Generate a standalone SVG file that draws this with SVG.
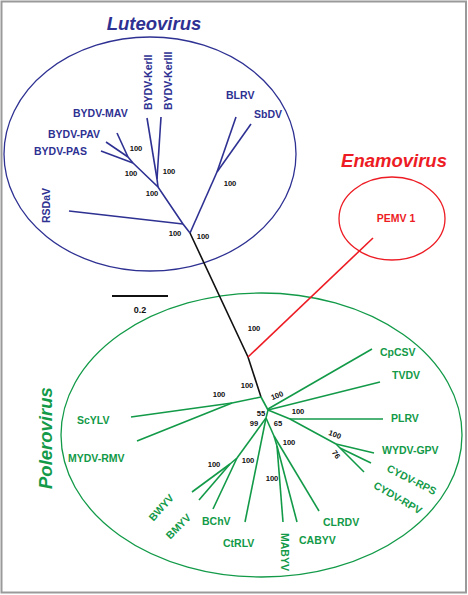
<svg xmlns="http://www.w3.org/2000/svg" width="468" height="595" viewBox="0 0 468 595">
<style>
text{font-family:"Liberation Sans",Arial,sans-serif;font-weight:bold}
.t{font-size:10.5px}
.b{fill:#2E3192}.r{fill:#ED1C24}.g{fill:#129A48}
.title{font-size:18.5px;font-style:italic}
.bs{font-size:7.6px;fill:#111;text-anchor:middle}
.lb{stroke:#2E3192;stroke-width:1.6;fill:none}
.lg{stroke:#129A48;stroke-width:1.6;fill:none}
.lr{stroke:#ED1C24;stroke-width:1.6;fill:none}
.lk{stroke:#111;stroke-width:1.6;fill:none}
.m{text-anchor:middle}
</style>
<rect x="0" y="0" width="468" height="595" fill="#fff"/>
<rect x="1.5" y="1.5" width="464.5" height="591" fill="none" stroke="#9a9a9a" stroke-width="2"/>

<g id="luteovirus">
<ellipse cx="150" cy="154" rx="146" ry="117" fill="none" stroke="#2E3192" stroke-width="1.3"/>
<text class="title b m" x="154" y="30">Luteovirus</text>
</g>
<g id="enamovirus">
<ellipse cx="392" cy="218.5" rx="53" ry="41.5" fill="none" stroke="#ED1C24" stroke-width="1.3"/>
<text class="title r m" x="394" y="167">Enamovirus</text>
</g>
<g id="polerovirus">
<ellipse cx="261.5" cy="435" rx="200.5" ry="142" fill="none" stroke="#129A48" stroke-width="1.3"/>
<text class="title g" transform="translate(52,489) rotate(-90)">Polerovirus</text>
</g>

<g id="connectors">
<!-- Luteovirus -->
<polyline class="lb" points="190,233 183,224 158,187 133,163"/>
<line class="lb" x1="183" y1="224" x2="69" y2="211"/>
<line class="lb" x1="158" y1="187" x2="157" y2="179"/>
<line class="lb" x1="157" y1="179" x2="147" y2="118"/>
<line class="lb" x1="157" y1="179" x2="161" y2="117"/>
<line class="lb" x1="133" y1="163" x2="101" y2="151"/>
<line class="lb" x1="133" y1="163" x2="128" y2="157"/>
<line class="lb" x1="128" y1="157" x2="117" y2="133"/>
<line class="lb" x1="128" y1="157" x2="106" y2="142"/>
<line class="lb" x1="190" y1="233" x2="217" y2="172"/>
<line class="lb" x1="217" y1="172" x2="236" y2="117"/>
<line class="lb" x1="217" y1="172" x2="251" y2="124"/>
<!-- trunk -->
<polyline class="lk" points="190,233 248,357 261,397"/>
<line class="lr" x1="248" y1="357" x2="373" y2="238"/>
<!-- Polerovirus -->
<line class="lg" x1="261" y1="397" x2="268" y2="410"/>
<line class="lg" x1="261" y1="397" x2="232" y2="403"/>
<line class="lg" x1="232" y1="403" x2="131" y2="417"/>
<line class="lg" x1="232" y1="403" x2="137" y2="441"/>
<line class="lg" x1="268" y1="409" x2="372" y2="349"/>
<line class="lg" x1="268" y1="410" x2="380" y2="382"/>
<polyline class="lg" points="268,410 290,419 336,444"/>
<line class="lg" x1="290" y1="419" x2="383" y2="419"/>
<line class="lg" x1="336" y1="444" x2="374" y2="453"/>
<line class="lg" x1="336" y1="444" x2="340" y2="448"/>
<line class="lg" x1="340" y1="448" x2="371" y2="463"/>
<line class="lg" x1="340" y1="448" x2="364" y2="472"/>
<line class="lg" x1="268" y1="410" x2="266" y2="418"/>
<line class="lg" x1="266" y1="418" x2="237" y2="458"/>
<line class="lg" x1="237" y1="458" x2="213" y2="509"/>
<line class="lg" x1="237" y1="458" x2="230" y2="464"/>
<line class="lg" x1="230" y1="464" x2="192" y2="492"/>
<line class="lg" x1="230" y1="464" x2="199" y2="500"/>
<line class="lg" x1="266" y1="418" x2="245" y2="522"/>
<line class="lg" x1="266" y1="418" x2="274" y2="436"/>
<line class="lg" x1="274" y1="436" x2="319" y2="511"/>
<line class="lg" x1="274" y1="436" x2="277" y2="446"/>
<line class="lg" x1="277" y1="446" x2="283" y2="522"/>
<line class="lg" x1="277" y1="446" x2="297" y2="522"/>
<!-- scale bar -->
<line x1="112" y1="296" x2="168" y2="296" stroke="#111" stroke-width="2"/>
</g>

<g id="scale"><text class="bs" style="font-size:9px" x="140" y="313">0.2</text></g>

<g id="BYDV-MAV"><text class="t b" x="73" y="117">BYDV-MAV</text></g>
<g id="BYDV-PAV"><text class="t b" x="48" y="138">BYDV-PAV</text></g>
<g id="BYDV-PAS"><text class="t b" x="34" y="155">BYDV-PAS</text></g>
<g id="BYDV-KerII"><text class="t b" transform="translate(152,110) rotate(-90)">BYDV-KerII</text></g>
<g id="BYDV-KerIII"><text class="t b" transform="translate(172,110) rotate(-90)">BYDV-KerIII</text></g>
<g id="BLRV"><text class="t b" x="226" y="99">BLRV</text></g>
<g id="SbDV"><text class="t b" x="254" y="118">SbDV</text></g>
<g id="RSDaV"><text class="t b" transform="translate(50,223) rotate(-90)">RSDaV</text></g>
<g id="PEMV1"><text class="t r m" x="396" y="222">PEMV 1</text></g>
<g id="CpCSV"><text class="t g" x="380" y="356">CpCSV</text></g>
<g id="TVDV"><text class="t g" x="392" y="379">TVDV</text></g>
<g id="PLRV"><text class="t g" x="391" y="422">PLRV</text></g>
<g id="WYDV-GPV"><text class="t g" x="382" y="454">WYDV-GPV</text></g>
<g id="CYDV-RPS"><text class="t g m" transform="translate(410,483) rotate(27)">CYDV-RPS</text></g>
<g id="CYDV-RPV"><text class="t g m" transform="translate(396,501) rotate(30)">CYDV-RPV</text></g>
<g id="CLRDV"><text class="t g" x="323" y="526">CLRDV</text></g>
<g id="CABYV"><text class="t g" x="299" y="544">CABYV</text></g>
<g id="MABYV"><text class="t g" transform="translate(281,533) rotate(90)">MABYV</text></g>
<g id="CtRLV"><text class="t g" x="223" y="547">CtRLV</text></g>
<g id="BChV"><text class="t g" x="202" y="525">BChV</text></g>
<g id="BWYV"><text class="t g m" transform="translate(164,510) rotate(-48)">BWYV</text></g>
<g id="BMYV"><text class="t g m" transform="translate(181,529) rotate(-45)">BMYV</text></g>
<g id="MYDV-RMV"><text class="t g" x="68" y="462">MYDV-RMV</text></g>
<g id="ScYLV"><text class="t g" x="77" y="424">ScYLV</text></g>

<g id="bootstrap">
<text class="bs" x="136" y="151">100</text>
<text class="bs" x="131" y="176">100</text>
<text class="bs" x="169" y="174">100</text>
<text class="bs" x="152" y="196">100</text>
<text class="bs" x="175" y="236">100</text>
<text class="bs" x="203" y="239">100</text>
<text class="bs" x="230" y="186">100</text>
<text class="bs" x="254" y="331">100</text>
<text class="bs" x="247" y="388">100</text>
<text class="bs" transform="translate(278,398) rotate(-22)">100</text>
<text class="bs" x="219" y="397">100</text>
<text class="bs" x="261" y="416">55</text>
<text class="bs" x="298" y="414">100</text>
<text class="bs" x="254" y="426">99</text>
<text class="bs" x="278" y="426">65</text>
<text class="bs" transform="translate(334,437) rotate(20)">100</text>
<text class="bs" transform="translate(334,456) rotate(55)">76</text>
<text class="bs" x="289" y="445">100</text>
<text class="bs" x="248" y="463">100</text>
<text class="bs" x="214" y="467">100</text>
<text class="bs" x="272" y="481">100</text>
</g>
</svg>
